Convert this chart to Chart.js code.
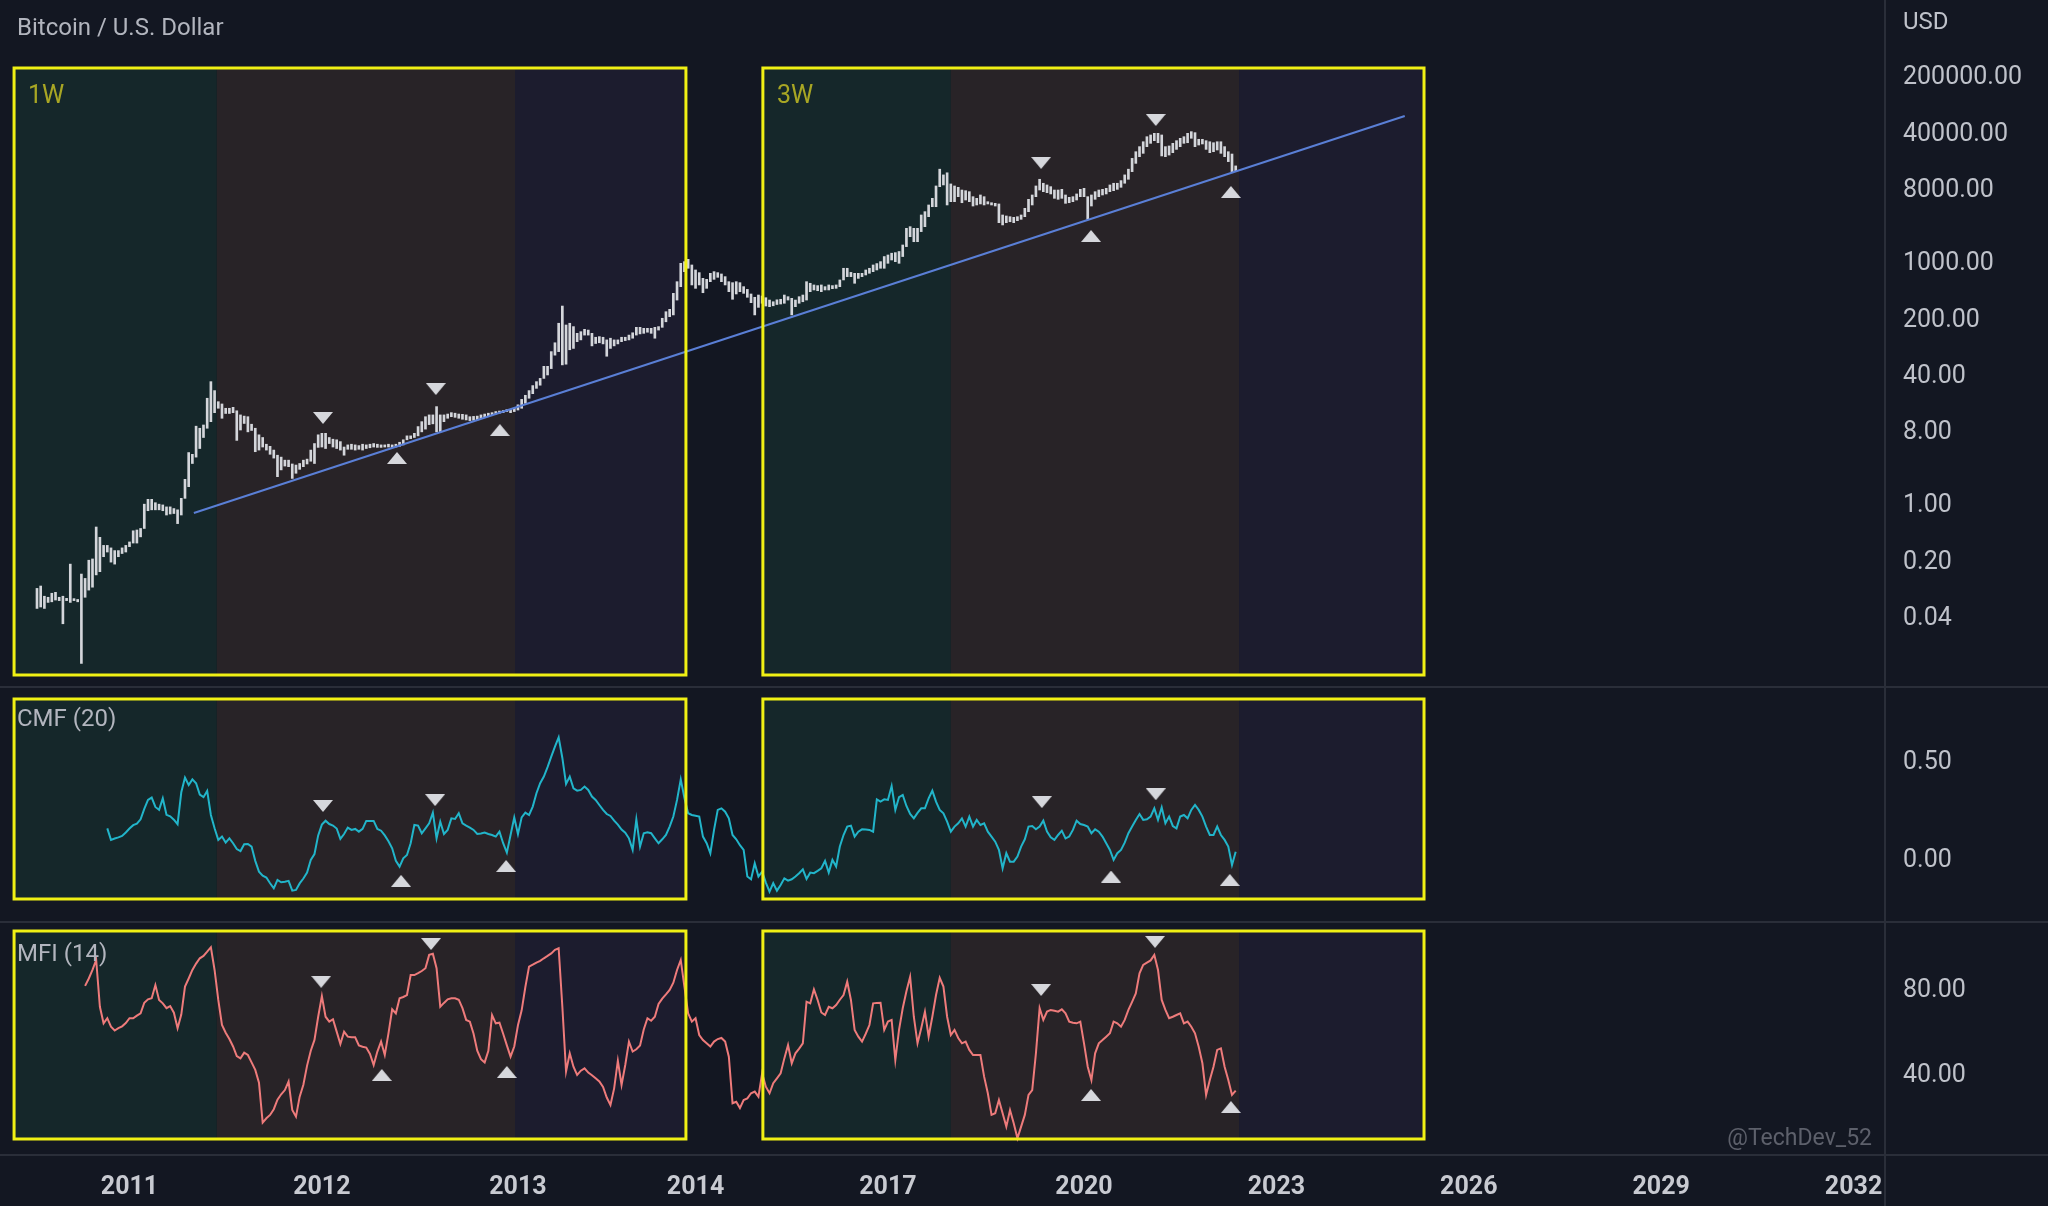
<!DOCTYPE html>
<html>
<head>
<meta charset="utf-8">
<title>Bitcoin / U.S. Dollar</title>
<script src="https://cdn.jsdelivr.net/npm/chart.js@4.4.1/dist/chart.umd.min.js"></script>
<style>
  html, body { margin:0; padding:0; background:#131722; }
  body { width:2048px; height:1206px; overflow:hidden; position:relative; }
  canvas { position:absolute; left:0; display:block; }
</style>
</head>
<body>
<canvas id="pricePane" style="top:0px;width:2048px;height:688px" width="2048" height="688"></canvas>
<canvas id="cmfPane" style="top:688px;width:2048px;height:235px" width="2048" height="235"></canvas>
<canvas id="mfiPane" style="top:923px;width:2048px;height:283px" width="2048" height="283"></canvas>
<script>
// ---------------- DATA (one entry per bar slot; 1W bars then 3W bars) ----------------
const priceLow = [
0.048,0.050,0.048,0.057,0.058,0.061,0.060,0.031,0.060,0.057,
0.060,0.058,0.010,0.066,0.081,0.088,0.125,0.137,0.21,0.24,
0.18,0.17,0.21,0.23,0.24,0.28,0.31,0.31,0.37,0.47,
0.78,0.80,0.80,0.80,0.78,0.69,0.71,0.72,0.54,0.69,
1.11,1.55,3.0,3.6,4.6,6.3,8.2,9.9,12.8,14.5,
10.9,12.5,12.5,12.8,5.8,7.8,9.4,7.4,7.7,4.2,
4.4,4.8,4.4,3.9,3.5,2.06,2.5,2.79,2.74,1.96,
2.27,2.54,2.74,2.96,3.2,3.0,4.75,4.8,4.6,5.3,
4.8,4.6,4.4,3.8,4.5,4.5,4.4,4.5,4.4,4.6,
4.7,4.8,4.75,4.75,4.8,4.8,4.75,4.8,4.9,5.1,
5.9,6.1,6.3,6.6,7.4,8.0,9.1,9.3,7.4,7.4,
9.9,10.9,11.4,11.2,10.9,10.6,10.4,10.2,10.3,10.4,
10.9,11.4,11.7,12,12.3,12.6,12.8,13.2,12.8,13.2,
13.8,14.5,16.7,19.3,22,25.6,28,34,37.5,45,
66,73,50,51,77,80,97,102,117,117,
86,92,94,91,64,80,86,91,97,100,
102,107,117,121,123,127,123,107,135,146,
171,198,208,318,466,715,787,489,444,489,
392,444,537,574,608,537,489,404,325,378,
404,385,344,295,208,258,290,268,263,270,
280,284,290,318,208,263,290,303,318,404,
424,415,404,424,424,440,444,466,564,620,
620,513,590,620,650,682,715,750,787,787,
907,997,951,907,1100,1460,1940,1680,1680,2240,
2580,3430,4560,4560,8080,8480,4790,5260,5260,6070,
5110,5520,5260,4650,4790,4930,4790,4930,4790,4650,
2890,2710,2890,2970,2890,3060,3180,3430,3960,4790,
6070,7340,7000,6800,6560,5790,5630,5790,5020,5110,
5260,5520,6070,6070,3180,4650,5630,6070,6370,6560,
7000,7200,7480,7930,8900,9970,12400,15700,19000,20900,
25300,27800,30000,28300,19400,19000,19900,21300,23400,25300,
27800,28300,32100,25300,26500,27300,23400,21300,21900,23000,
20900,19000,16500,12400,12400
];
const priceHigh = [
0.085,0.091,0.068,0.066,0.074,0.076,0.066,0.068,0.064,0.17,
0.063,0.062,0.128,0.113,0.19,0.197,0.49,0.365,0.29,0.29,
0.27,0.25,0.25,0.27,0.29,0.32,0.44,0.45,0.47,0.94,
1.08,1.08,0.98,0.94,0.92,0.87,0.87,0.83,0.80,1.11,
1.91,4.1,3.9,8.7,8.2,9.0,19.3,31,24,17.5,
16.4,14.5,14.5,14.9,13.5,12,11.6,11.4,9.2,8.2,
6.8,6.3,5.2,4.9,4.4,3.8,3.6,3.3,3.3,2.96,
2.87,3.0,3.3,3.4,4.4,5.3,6.8,7.1,7.1,6.3,
6.0,5.9,5.6,4.8,5.1,5.2,5.1,5.0,5.2,5.1,
5.2,5.3,5.2,5.1,5.1,5.2,5.1,5.2,5.5,5.9,
6.6,6.6,7.1,8.6,9.9,11.4,12,12,15.2,12,
12,12.3,12.8,12.6,12.3,12.2,12,11.4,11.5,11.6,
12,12.3,12.6,12.8,13.2,13.4,13.6,13.8,14,14.5,
16,18.7,21,24,27.7,31,34,48,48,73,
94,164,268,156,164,149,123,129,138,135,
123,110,112,110,102,107,102,102,110,110,
117,125,146,146,142,142,142,146,149,189,
228,244,385,537,907,950,1016,865,750,695,
591,574,682,715,695,669,620,537,522,537,
522,466,431,378,344,367,357,340,318,303,
320,325,367,350,334,318,350,367,537,513,
489,480,489,466,489,480,489,564,787,787,
700,682,682,682,750,787,865,900,951,1100,
1150,1210,1230,1270,1530,2460,2580,2460,2460,3600,
3960,4790,5790,8240,13300,11300,12000,8730,8240,7930,
7340,7200,7000,6070,5790,6370,6070,5260,5110,5020,
4930,3600,3500,3430,3370,3430,3600,4350,5630,6370,
8240,9970,8900,8480,8080,7340,7340,7480,6370,5960,
6070,6560,7480,7700,6070,6370,7000,7340,7480,7700,
8480,8900,8900,9600,11300,13300,18100,21900,25300,29100,
33600,35300,37000,37000,35300,25300,25800,27800,30000,32100,
33600,37000,38800,37700,31200,31200,30000,29100,28300,29100,
29100,25300,21900,20500,14600
];
const cmfStart = 19;
const cmfValues = [
0.146,0.087,0.094,0.100,0.107,0.125,0.145,0.162,0.170,0.192,
0.245,0.291,0.303,0.255,0.240,0.299,0.215,0.207,0.190,0.167,
0.330,0.405,0.367,0.396,0.376,0.318,0.305,0.337,0.214,0.146,
0.087,0.104,0.073,0.095,0.070,0.040,0.030,0.065,0.066,0.053,
-0.020,-0.075,-0.095,-0.105,-0.134,-0.160,-0.117,-0.129,-0.126,-0.122,
-0.172,-0.168,-0.135,-0.110,-0.080,-0.015,0.015,0.110,0.165,0.185,
0.168,0.160,0.145,0.092,0.117,0.150,0.138,0.143,0.129,0.143,
0.184,0.184,0.184,0.143,0.134,0.110,0.080,0.044,-0.020,-0.049,
-0.007,0.010,0.070,0.163,0.160,0.121,0.146,0.172,0.226,0.095,
0.180,0.117,0.138,0.197,0.194,0.223,0.172,0.160,0.150,0.138,
0.117,0.120,0.124,0.117,0.112,0.104,0.129,0.070,0.022,0.112,
0.201,0.116,0.202,0.226,0.214,0.257,0.325,0.376,0.410,0.458,
0.512,0.563,0.610,0.505,0.372,0.410,0.350,0.338,0.342,0.359,
0.342,0.308,0.291,0.265,0.240,0.219,0.209,0.185,0.165,0.140,
0.124,0.095,0.036,0.192,0.053,0.121,0.126,0.121,0.095,0.070,
0.090,0.112,0.155,0.206,0.291,0.396,0.300,0.223,0.214,0.210,
0.206,0.104,0.070,0.019,0.138,0.240,0.248,0.231,0.197,0.112,
0.090,0.060,0.036,-0.100,-0.114,-0.032,-0.100,-0.075,-0.131,-0.177,
-0.134,-0.172,-0.143,-0.109,-0.121,-0.114,-0.100,-0.083,-0.063,-0.112,
-0.080,-0.083,-0.071,-0.058,-0.020,-0.080,-0.015,-0.049,0.053,0.112,
0.155,0.160,0.104,0.129,0.141,0.140,0.138,0.129,0.294,0.282,
0.294,0.291,0.362,0.240,0.305,0.316,0.260,0.219,0.197,0.225,
0.248,0.248,0.299,0.338,0.282,0.240,0.223,0.180,0.129,0.155,
0.172,0.197,0.155,0.206,0.155,0.189,0.163,0.172,0.129,0.104,
0.078,0.036,-0.058,0.019,-0.024,-0.024,0.002,0.053,0.090,0.155,
0.158,0.141,0.155,0.185,0.129,0.100,0.087,0.112,0.134,0.095,
0.104,0.138,0.185,0.168,0.163,0.155,0.121,0.141,0.129,0.104,
0.070,0.036,-0.015,0.019,0.036,0.073,0.121,0.155,0.189,0.219,
0.189,0.192,0.206,0.248,0.189,0.253,0.172,0.206,0.158,0.146,
0.206,0.214,0.197,0.240,0.265,0.240,0.206,0.155,0.112,0.112,
0.155,0.112,0.087,0.053,-0.041,0.027
];
const mfiStart = 13;
const mfiValues = [
80.5,84,88,92.7,70.7,62.9,65.3,61.3,59.5,60.6,
61.5,63,65.3,65.3,66.5,67.6,72.6,74.2,74.7,80.9,
73.9,72.3,70.0,71.0,67.9,60.6,67,80.2,84,88.0,
91,93.5,94.6,96.6,98.7,88.0,73.9,62.1,58.5,55.5,
52,47.5,46.4,49.1,48,44.5,41,35,16.2,18.2,
19.8,22.5,27,29.5,31.5,35.5,22.1,19.0,28.4,34,
43,50,55.1,66.0,75.7,66.0,63.7,64.8,59.0,53.2,
59.0,56.6,56.3,56.3,52.5,51.9,51.5,48.5,43.3,49.6,
54.3,48.0,58.2,69.5,67.6,74.7,75.3,76.2,85.6,85.6,
86.5,87.5,88.8,95.1,95.6,88.8,70.7,72.5,74.2,74.7,
74.7,74,70,64.5,63.7,58,50,46,44.5,50,
66.8,62.9,63.2,58,52.5,47.2,52,62,69,80,
89.6,90.5,91.5,92.3,93.5,94.6,95.8,97.5,98.2,70.7,
40.2,48.8,42.5,38.6,40.6,41.7,39.7,38.5,37,35.5,
33,28,24.5,32.3,45.3,33.9,43.3,54.3,49.6,50.7,
52.5,60,65.3,64.1,66,72,74.5,76.5,78.6,82,
88.0,92.7,80,67.6,63.7,65.3,57.4,55,53.5,52,
54.3,55.5,56,54.3,47.2,25.3,26,23,26.8,27.6,
30.0,30.8,28.4,39.4,33.1,30.0,34.7,37,39.4,46.4,
52.7,44.1,48.8,51,53.5,73.1,72.3,78.9,73.9,68,
66.8,70.7,70.0,71.5,74,76.2,82.5,73.9,59.8,56.6,
54.3,58,62.1,72.3,72.5,72.6,59.8,63.7,64.5,45.6,
59.8,70.0,78,84.8,66.0,53.5,60.6,68.4,56.6,66.0,
76.2,84.3,80.2,66.0,57.4,59.8,56,53.5,54.3,50.4,
48.0,48.0,48.0,37.8,30.0,19.8,20.6,26.8,20.6,14.3,
22.1,15.9,8.8,14.3,19.8,29.2,31.5,48.8,70.0,64.5,
68.4,69.2,68.8,68.4,69.5,67.6,63.7,63.2,62.9,63.7,
53.5,42.5,36.2,48.8,53.5,55,56.6,58.2,63.7,62.9,
61.3,64.5,69.2,73,77.0,86.4,90.4,91.5,92.5,95.1,
88.0,73.9,69.2,65.3,66.0,66.8,67.6,62.9,63.7,61.3,
58.2,51.9,44.1,29.2,36.2,42.5,50.4,51.1,42.5,36.2,
29.2,31.2
];
// trend line (slot, price)
const trendSlots = [42.4, 369.7];
const trendPrices = [0.73, 60700];
// pivot markers
const priceTopSlots = [77.3, 107.8, 271.4, 302.4];
const priceTopValues = [11.0, 25.1, 15900, 54200];
const priceBottomSlots = [97.3, 125.1, 284.9, 322.7];
const priceBottomValues = [3.51, 7.8, 1980, 6940];
const cmfTopSlots = [77.3, 107.6, 271.6, 302.4];
const cmfTopValues = [0.26, 0.29, 0.28, 0.32];
const cmfBottomSlots = [98.4, 126.8, 290.3, 322.4];
const cmfBottomValues = [-0.122, -0.046, -0.10, -0.117];
const mfiTopSlots = [76.8, 106.5, 271.4, 302.2];
const mfiTopValues = [82.4, 100.2, 78.6, 101.2];
const mfiBottomSlots = [93.2, 127, 284.9, 322.7];
const mfiBottomValues = [38.6, 40, 29.2, 23.5];
// axis ticks
const tickYears = [2011, 2012, 2013, 2014, 2017, 2020, 2023, 2026, 2029, 2032];
const priceTicks = [200000, 40000, 8000, 1000, 200, 40, 8, 1, 0.2, 0.04];
const cmfTicks = [0.5, 0];
const mfiTicks = [80, 40];

// ---------------- bar slot -> date (1W section, then 3W section) ----------------
const DAY = 86400000;
const firstBarTime = Date.UTC(2010, 6, 12);
const weeklyBarCount = 176;
function slotTime(s) {
  return s < weeklyBarCount ? firstBarTime + s * 7 * DAY
    : firstBarTime + (weeklyBarCount * 7 + (s - weeklyBarCount) * 21) * DAY;
}
function yearSlot(y) { const t = Date.UTC(y, 0, 1); let s = 0; while (slotTime(s) < t) s++; return s; }

// ---------------- view / style ----------------
const xMin = -10, xMax = 499.5;
const axisWidth = 163;
const priceRange = [0.00496, 1.66e6];
const cmfRange = [-0.337, 0.862];
const mfiRange = [0.47, 110.1];
const SEP = '#2a2e39';
const BG = '#131722';
const BAND_COLORS = ['#15272a', '#282327', '#1c1c2e'];
const BOX_COLOR = '#f0f014';
const FONT = 'Roboto, "Liberation Sans", sans-serif';
Chart.defaults.font.family = FONT;

const boxLayout = [
  { from: -6.2, to: 175.4, splits: [48.6, 129.2], tag: '1W' },
  { from: 196.2, to: 374.9, splits: [247, 324.9], tag: '3W' }
];
const paneConfig = {
  pricePane: { insetTop: 68, insetBottom: 13, tags: true,
    texts: [
      { t: 'Bitcoin / U.S. Dollar', x: 17, y: 29, size: 24, color: '#b2b5be' },
      { t: 'USD', x: 1903, y: 23, size: 24, color: '#bfc2ca' }
    ] },
  cmfPane: { insetTop: 11, insetBottom: 24,
    texts: [ { t: 'CMF (20)', x: 17, y: 32, size: 24, color: '#b2b5be' } ] },
  mfiPane: { insetTop: 8, insetBottom: 17,
    texts: [
      { t: 'MFI (14)', x: 17, y: 32, size: 24, color: '#b2b5be' },
      { t: '@TechDev_52', x: 1872, y: 216, size: 23, color: '#5d606b', align: 'right' }
    ] }
};

const paneDecor = {
  id: 'paneDecor',
  beforeDraw(chart) {
    const { ctx, width, height } = chart;
    ctx.save(); ctx.fillStyle = BG; ctx.fillRect(0, 0, width, height); ctx.restore();
  },
  beforeDatasetsDraw(chart) {
    const cfg = paneConfig[chart.canvas.id];
    const { ctx, chartArea: a } = chart; const x = chart.scales.x;
    const top = a.top + cfg.insetTop, bottom = a.bottom - cfg.insetBottom;
    ctx.save();
    for (const b of boxLayout) {
      const e = [b.from, ...b.splits, b.to].map(v => x.getPixelForValue(v));
      for (let i = 0; i < 3; i++) { ctx.fillStyle = BAND_COLORS[i]; ctx.fillRect(e[i], top, e[i + 1] - e[i], bottom - top); }
    }
    ctx.restore();
  },
  afterDraw(chart) {
    const cfg = paneConfig[chart.canvas.id];
    const { ctx, chartArea: a, width, height } = chart; const x = chart.scales.x;
    const top = a.top + cfg.insetTop, bottom = a.bottom - cfg.insetBottom;
    ctx.save();
    ctx.strokeStyle = BOX_COLOR; ctx.lineWidth = 3;
    for (const b of boxLayout) {
      const l = x.getPixelForValue(b.from), r = x.getPixelForValue(b.to);
      ctx.strokeRect(l, top, r - l, bottom - top);
      if (cfg.tags) {
        ctx.fillStyle = '#a8a624'; ctx.font = '25px ' + FONT; ctx.textBaseline = 'middle'; ctx.textAlign = 'left';
        ctx.fillText(b.tag, l + 14, top + 29);
      }
    }
    for (const t of cfg.texts) {
      ctx.fillStyle = t.color; ctx.font = t.size + 'px ' + FONT;
      ctx.textBaseline = 'middle'; ctx.textAlign = t.align || 'left';
      ctx.fillText(t.t, t.x, t.y);
    }
    ctx.fillStyle = SEP;
    ctx.fillRect(a.right - 1, 0, 2, height);
    ctx.fillRect(0, Math.min(a.bottom, height) - 2, width, 2);
    ctx.restore();
  }
};

function triangle(up) {
  const c = document.createElement('canvas'); c.width = 20; c.height = 12;
  const g = c.getContext('2d'); g.fillStyle = '#d6d7dc'; g.beginPath();
  if (up) { g.moveTo(10, 0); g.lineTo(20, 12); g.lineTo(0, 12); }
  else { g.moveTo(0, 0); g.lineTo(20, 0); g.lineTo(10, 12); }
  g.closePath(); g.fill(); return c;
}
const triUp = triangle(true), triDown = triangle(false);

function markerSet(slots, values, img) {
  return { type: 'scatter', data: slots.map((s, i) => ({ x: s, y: values[i] })), pointStyle: img, pointRadius: 8, order: 1 };
}

function options(yCfg, showX) {
  const xScale = {
    type: 'linear', min: xMin, max: xMax, offset: false, display: showX,
    grid: { display: false, drawTicks: false }, border: { display: false },
    afterBuildTicks: s => { s.ticks = tickYears.map(y => ({ value: yearSlot(y) })); },
    ticks: { autoSkip: false, maxRotation: 0, minRotation: 0, padding: 17, color: '#c8cad1',
      font: { size: 25, weight: 'bold' }, callback: (v, i) => String(tickYears[i]) }
  };
  if (showX) xScale.afterFit = s => { s.height = 50; s.paddingLeft = 0; s.paddingRight = 0; };
  return {
    responsive: false, animation: false, events: [],
    layout: { padding: 0, autoPadding: false },
    plugins: { legend: { display: false }, tooltip: { enabled: false }, title: { display: false } },
    scales: {
      x: xScale,
      y: Object.assign({
        position: 'right',
        grid: { display: false, drawTicks: false }, border: { display: false },
        afterFit: s => { s.width = axisWidth; s.paddingTop = 0; s.paddingBottom = 0; },
        ticks: { autoSkip: false, padding: 18, labelOffset: 4, color: '#bfc2ca', font: { size: 25 },
          callback: v => Number(v).toFixed(2) }
      }, yCfg)
    }
  };
}

new Chart(document.getElementById('pricePane'), {
  type: 'bar',
  data: { datasets: [
    { type: 'bar', data: priceLow.map((l, i) => ({ x: i, y: [l, priceHigh[i]] })), backgroundColor: '#d4d6db',
      barThickness: 2, minBarLength: 2, order: 3 },
    { type: 'line', data: trendSlots.map((s, i) => ({ x: s, y: trendPrices[i] })), borderColor: '#5a7fd6',
      borderWidth: 2, pointRadius: 0, order: 2 },
    markerSet(priceTopSlots, priceTopValues, triDown),
    markerSet(priceBottomSlots, priceBottomValues, triUp)
  ] },
  options: options({ type: 'logarithmic', min: priceRange[0], max: priceRange[1],
    afterBuildTicks: s => { s.ticks = priceTicks.map(v => ({ value: v })); } }, false),
  plugins: [paneDecor]
});

new Chart(document.getElementById('cmfPane'), {
  type: 'line',
  data: { datasets: [
    { type: 'line', data: cmfValues.map((v, i) => ({ x: cmfStart + i, y: v })), borderColor: '#22b5ca',
      borderWidth: 2, pointRadius: 0, tension: 0, order: 2 },
    markerSet(cmfTopSlots, cmfTopValues, triDown),
    markerSet(cmfBottomSlots, cmfBottomValues, triUp)
  ] },
  options: options({ type: 'linear', min: cmfRange[0], max: cmfRange[1],
    afterBuildTicks: s => { s.ticks = cmfTicks.map(v => ({ value: v })); } }, false),
  plugins: [paneDecor]
});

new Chart(document.getElementById('mfiPane'), {
  type: 'line',
  data: { datasets: [
    { type: 'line', data: mfiValues.map((v, i) => ({ x: mfiStart + i, y: v })), borderColor: '#ee7b7b',
      borderWidth: 2, pointRadius: 0, tension: 0, order: 2 },
    markerSet(mfiTopSlots, mfiTopValues, triDown),
    markerSet(mfiBottomSlots, mfiBottomValues, triUp)
  ] },
  options: options({ type: 'linear', min: mfiRange[0], max: mfiRange[1],
    afterBuildTicks: s => { s.ticks = mfiTicks.map(v => ({ value: v })); } }, true),
  plugins: [paneDecor]
});
</script>
</body>
</html>
